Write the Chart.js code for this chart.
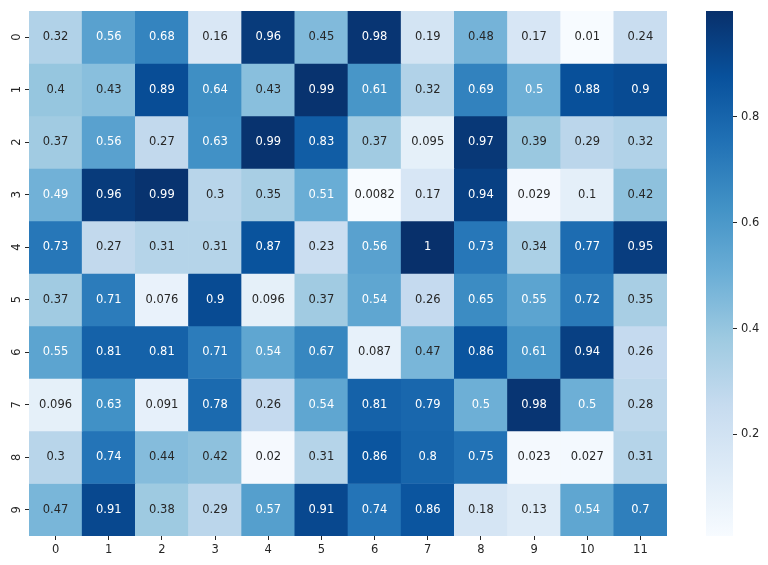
<!DOCTYPE html>
<html>
<head>
<meta charset="utf-8">
<script src="https://cdn.jsdelivr.net/npm/chart.js@4.4.1/dist/chart.umd.min.js"></script>
<style>
body { margin: 0; background: #fff; width: 768px; height: 565px; overflow: hidden; position: relative; }
#heat { position: absolute; left: 0; top: 0; }
#cbar { position: absolute; left: 690px; top: 0; }
</style>
</head>
<body>
<canvas id="heat" width="690" height="565"></canvas>
<canvas id="cbar" width="78" height="565"></canvas>
<script>
// tick labels
var rowLabels = ['0', '1', '2', '3', '4', '5', '6', '7', '8', '9'];
var colLabels = ['0', '1', '2', '3', '4', '5', '6', '7', '8', '9', '10', '11'];
var cbarTicks = [0.2, 0.4, 0.6, 0.8];

// cell values, one array per row
var row0 = [0.32, 0.56, 0.68, 0.16, 0.96, 0.45, 0.98, 0.19, 0.48, 0.17, 0.01, 0.24];
var row1 = [0.4, 0.43, 0.89, 0.64, 0.43, 0.99, 0.61, 0.32, 0.69, 0.5, 0.88, 0.9];
var row2 = [0.37, 0.56, 0.27, 0.63, 0.99, 0.83, 0.37, 0.095, 0.97, 0.39, 0.29, 0.32];
var row3 = [0.49, 0.96, 0.99, 0.3, 0.35, 0.51, 0.0082, 0.17, 0.94, 0.029, 0.1, 0.42];
var row4 = [0.73, 0.27, 0.31, 0.31, 0.87, 0.23, 0.56, 1, 0.73, 0.34, 0.77, 0.95];
var row5 = [0.37, 0.71, 0.076, 0.9, 0.096, 0.37, 0.54, 0.26, 0.65, 0.55, 0.72, 0.35];
var row6 = [0.55, 0.81, 0.81, 0.71, 0.54, 0.67, 0.087, 0.47, 0.86, 0.61, 0.94, 0.26];
var row7 = [0.096, 0.63, 0.091, 0.78, 0.26, 0.54, 0.81, 0.79, 0.5, 0.98, 0.5, 0.28];
var row8 = [0.3, 0.74, 0.44, 0.42, 0.02, 0.31, 0.86, 0.8, 0.75, 0.023, 0.027, 0.31];
var row9 = [0.47, 0.91, 0.38, 0.29, 0.57, 0.91, 0.74, 0.86, 0.18, 0.13, 0.54, 0.7];
var matrix = [row0, row1, row2, row3, row4, row5, row6, row7, row8, row9];

var allVals = [].concat.apply([], matrix);
var vmin = Math.min.apply(null, allVals);
var vmax = Math.max.apply(null, allVals);

// matplotlib "Blues"
var blues = [[247,251,255],[222,235,247],[198,219,239],[158,202,225],[107,174,214],[66,146,198],[33,113,181],[8,81,156],[8,48,107]];
function bluesAt(t) {
    t = Math.max(0, Math.min(1, t));
    var p = t * 8, i = Math.min(7, Math.floor(p)), f = p - i;
    var a = blues[i], b = blues[i + 1];
    return [0, 1, 2].map(function (k) { return a[k] + (b[k] - a[k]) * f; });
}
function rgb(c) { return 'rgb(' + c.map(Math.round).join(',') + ')'; }
function cellColor(v) { return rgb(bluesAt((v - vmin) / (vmax - vmin))); }
function textColor(v) {
    var c = bluesAt((v - vmin) / (vmax - vmin)).map(function (x) {
        x = x / 255;
        return x <= 0.03928 ? x / 12.92 : Math.pow((x + 0.055) / 1.055, 2.4);
    });
    var lum = 0.2126 * c[0] + 0.7152 * c[1] + 0.0722 * c[2];
    return lum > 0.408 ? '#262626' : '#ffffff';
}
function fmt(v) { return String(Number(v.toPrecision(2))); }

var font = { family: 'DejaVu Sans', size: 11.5 };

// write the numbers in the cells
var annotate = {
    id: 'annotate',
    afterDatasetsDraw: function (chart) {
        var ctx = chart.ctx;
        ctx.save();
        ctx.font = '11.5px "DejaVu Sans"';
        ctx.textAlign = 'center';
        ctx.textBaseline = 'middle';
        chart.data.datasets.forEach(function (ds, r) {
            chart.getDatasetMeta(r).data.forEach(function (bar, c) {
                var v = matrix[r][c];
                var p = bar.getCenterPoint();
                ctx.fillStyle = textColor(v);
                ctx.fillText(fmt(v), p.x, p.y);
            });
        });
        ctx.restore();
    }
};

var datasets = matrix.map(function (vals, r) {
    return {
        data: vals.map(function () { return [r - 0.5, r + 0.5]; }),
        backgroundColor: vals.map(cellColor),
        borderWidth: 0,
        grouped: false,
        barPercentage: 1,
        categoryPercentage: 1
    };
});

new Chart(document.getElementById('heat'), {
    type: 'bar',
    data: { labels: colLabels, datasets: datasets },
    plugins: [annotate],
    options: {
        responsive: false,
        animation: false,
        events: [],
        layout: { padding: { top: 7.5, right: 23, left: 0, bottom: 0 } },
        plugins: { legend: { display: false }, tooltip: { enabled: false } },
        scales: {
            x: {
                offset: true,
                grid: { drawOnChartArea: false, offset: false, tickLength: 4, tickColor: '#262626', tickWidth: 1 },
                border: { display: false },
                ticks: { color: '#262626', font: font, padding: 3, minRotation: 0, maxRotation: 0, autoSkip: false },
                afterFit: function (s) { s.height = 29; }
            },
            y: {
                type: 'linear',
                reverse: true,
                min: -0.5,
                max: 9.5,
                afterBuildTicks: function (s) { s.ticks = rowLabels.map(function (l, i) { return { value: i }; }); },
                grid: { drawOnChartArea: false, tickLength: 4, tickColor: '#262626', tickWidth: 1 },
                border: { display: false },
                ticks: {
                    color: '#262626', font: font, padding: 4,
                    minRotation: 90, maxRotation: 90, crossAlign: 'center',
                    callback: function (v) { return rowLabels[v]; }
                },
                afterFit: function (s) { s.width = 29; }
            }
        }
    }
});

// colour bar
function barGradient(chart) {
    var area = chart.chartArea;
    if (!area) return null;
    var g = chart.ctx.createLinearGradient(0, area.bottom, 0, area.top);
    blues.forEach(function (c, i) { g.addColorStop(i / 8, rgb(c)); });
    return g;
}

new Chart(document.getElementById('cbar'), {
    type: 'bar',
    data: {
        labels: [''],
        datasets: [{
            data: [[vmin, vmax]],
            backgroundColor: function (ctx) { return barGradient(ctx.chart); },
            borderWidth: 0,
            barPercentage: 1,
            categoryPercentage: 1
        }]
    },
    options: {
        responsive: false,
        animation: false,
        events: [],
        layout: { padding: { top: 7.5, bottom: 29, left: 16, right: 0 } },
        plugins: { legend: { display: false }, tooltip: { enabled: false } },
        scales: {
            x: { display: false },
            y: {
                position: 'right',
                min: vmin,
                max: vmax,
                afterBuildTicks: function (s) { s.ticks = cbarTicks.map(function (v) { return { value: v }; }); },
                grid: { drawOnChartArea: false, tickLength: 4, tickColor: '#262626', tickWidth: 1 },
                border: { display: false },
                ticks: { color: '#262626', font: font, padding: 4, callback: function (v) { return v.toFixed(1); } },
                afterFit: function (s) { s.width = 35; }
            }
        }
    }
});
</script>
</body>
</html>
